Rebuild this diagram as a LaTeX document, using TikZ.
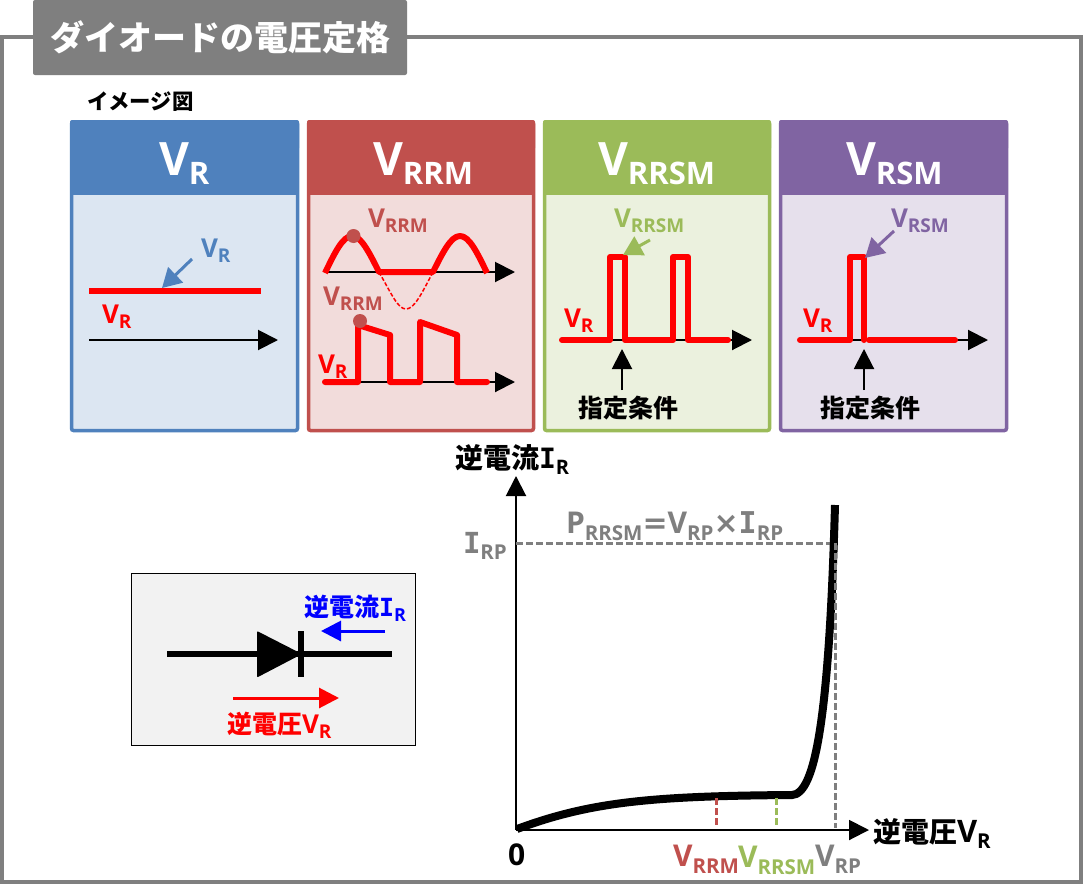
\documentclass[tikz,border=0pt]{standalone}
\usepackage{fontspec}
\setmainfont{Open Sans}
\newfontfamily\jp{Noto Sans CJK JP}
\newfontfamily\serifI{DejaVu Sans Mono}
\newfontfamily\symf{DejaVu Sans}
\usetikzlibrary{arrows.meta}
\definecolor{cblue}{HTML}{4F81BD}\definecolor{lblue}{HTML}{DCE6F2}
\definecolor{cred}{HTML}{C0504D}\definecolor{lred}{HTML}{F2DCDB}
\definecolor{cgreen}{HTML}{9BBB59}\definecolor{lgreen}{HTML}{EBF1DE}
\definecolor{cpurple}{HTML}{8064A2}\definecolor{lpurple}{HTML}{E6E0EC}
\definecolor{cgray}{HTML}{7F7F7F}\definecolor{lgray}{HTML}{F2F2F2}
\newcommand\VT[5]{{\fontsize{#1}{#1}\selectfont #4}\raisebox{-#3pt}{\bfseries\fontsize{#2}{#2}\selectfont #5}}
\newcommand\HeadT[2]{\VT{46}{31}{9}{#1}{#2}}
\newcommand\MidT[2]{\VT{26}{19}{5.5}{#1}{#2}}
\newcommand\GraT[2]{\VT{30}{20.5}{7}{#1}{#2}}
\newcommand\JI{{\serifI I}}
\tikzset{
 x=1pt,y=-1pt,
 every node/.style={inner sep=0pt,outer sep=0pt,font=\bfseries},
 txt/.style={anchor=base west},
 card/.style={rounded corners=2pt,line width=3.5pt},
 axis/.style={draw=black,line width=2pt,-{Triangle[length=20pt,width=20pt]}},
 redline/.style={draw=red,line width=6pt,line join=round,line cap=round},
 callout/.style={line width=3pt,-{Triangle[length=19pt,width=21pt]}},
 gdash/.style={line width=3pt,dash pattern=on 7pt off 3pt},
}
\begin{document}
\begin{tikzpicture}
\useasboundingbox (0,0) rectangle (1083,891);
\fill[white] (0,0) rectangle (1083,891);
% frame
\draw[cgray,line width=3.5pt] (2,37) rectangle (1081,882);
\node[fill=cgray,rounded corners=2pt,minimum width=374pt,minimum height=75pt,anchor=north west,text=white] (title) at (33,0) {\jp\fontsize{34}{34}\selectfont ダイオードの電圧定格};
\node[txt] (img) at (87,109) {\jp\fontsize{21.4}{21.4}\selectfont イメージ図};
% cards
\foreach \xa/\xb/\c/\l in {71.5/297.5/cblue/lblue,308.5/533.5/cred/lred,544.5/769.5/cgreen/lgreen,780.5/1006.5/cpurple/lpurple}{
 \draw[card,draw=\c,fill=\l] (\xa,122) rectangle (\xb,430.5);
 \fill[\c,rounded corners=2pt] (\xa-1.5,120) rectangle (\xb+1.5,150);
 \fill[\c] (\xa-1.5,140) rectangle (\xb+1.5,195);
}
\node[txt,text=white] (h1) at (159,175) {\HeadT{V}{R}};
\node[txt,text=white] (h2) at (373,175) {\HeadT{V}{RRM}};
\node[txt,text=white] (h3) at (598,175) {\HeadT{V}{RRSM}};
\node[txt,text=white] (h4) at (846,175) {\HeadT{V}{RSM}};
% card 1
\coordinate (a1s) at (89,340); \coordinate (a1e) at (278,340);
\draw[axis] (a1s) -- (a1e);
\draw[redline,line cap=butt] (89,291) -- (261,291);
\node[txt,text=cblue] (l1) at (201,257) {\MidT{V}{R}};
\node[txt,text=red] (l1r) at (102,323) {\MidT{V}{R}};
\coordinate (c1s) at (192,259); \coordinate (c1e) at (162,288);
\draw[callout,draw=cblue,fill=cblue] (c1s) -- (c1e);
% card 2
\coordinate (a2s) at (325,272); \coordinate (a2e) at (515,272);
\draw[axis] (a2s) -- (a2e);
\draw[red,line width=1.5pt,dash pattern=on 4pt off 2pt] (379,272) .. controls (392,295) and (398,309) .. (406,309) .. controls (414,309) and (421,295) .. (433,272);
\draw[redline,line cap=butt] (325,273) .. controls (335,252) and (343,236) .. (352,236) .. controls (361,236) and (369,252) .. (379,272) -- (433,272) .. controls (443,252) and (451,236) .. (460,236) .. controls (469,236) and (477,252) .. (487,273);
\fill[cred] (353.5,236) circle (7pt);
\node[txt,text=cred] (l2a) at (368,227) {\MidT{V}{RRM}};
\coordinate (a3s) at (325,382); \coordinate (a3e) at (515,382);
\draw[axis] (a3s) -- (a3e);
\draw[redline] (325,382) -- (358,382) -- (358,325) -- (390,335) -- (390,382) -- (420,382) -- (420,322) -- (457,335) -- (457,382) -- (487,382);
\fill[cred] (360,321) circle (7pt);
\node[txt,text=cred] (l2b) at (323,305) {\MidT{V}{RRM}};
\node[txt,text=red] (l2r) at (318,373) {\MidT{V}{R}};
% card 3
\coordinate (a4s) at (561,340); \coordinate (a4e) at (752,340);
\draw[axis] (a4s) -- (a4e);
\draw[redline] (562,340) -- (610,340) -- (610,257) -- (625,257) -- (625,340) -- (673,340) -- (673,257) -- (688,257) -- (688,340) -- (728,340);
\node[txt,text=cgreen] (l3) at (614,227) {\MidT{V}{RRSM}};
\node[txt,text=red] (l3r) at (564,327) {\MidT{V}{R}};
\coordinate (c3s) at (650,240); \coordinate (c3e) at (623,255);
\draw[callout,draw=cgreen,fill=cgreen] (c3s) -- (c3e);
\coordinate (u3s) at (622,390); \coordinate (u3e) at (622,349);
\draw[axis] (u3s) -- (u3e);
\node[txt] (t3) at (578,417) {\jp\fontsize{25}{25}\selectfont 指定条件};
% card 4
\coordinate (a5s) at (799,340); \coordinate (a5e) at (988,340);
\draw[axis] (a5s) -- (a5e);
\draw[redline] (800,340) -- (850,340) -- (850,257) -- (864,257) -- (864,340);
\draw[redline] (869,340) -- (955,340);
\node[txt,text=cpurple] (l4) at (891,227) {\MidT{V}{RSM}};
\node[txt,text=red] (l4r) at (803,327) {\MidT{V}{R}};
\coordinate (c4s) at (894,231); \coordinate (c4e) at (865,258);
\draw[callout,draw=cpurple,fill=cpurple] (c4s) -- (c4e);
\coordinate (u4s) at (864,390); \coordinate (u4e) at (864,349);
\draw[axis] (u4s) -- (u4e);
\node[txt] (t4) at (820,417) {\jp\fontsize{25}{25}\selectfont 指定条件};
% diode panel
\draw[black,fill=lgray,line width=1.3pt] (131.5,573.5) rectangle (415.5,745.5);
\coordinate (d1) at (167,654); \coordinate (d2) at (392,654);
\draw[line width=5.5pt] (d1) -- (d2);
\fill[black,rounded corners=1pt] (257,631) -- (257,677.5) -- (302,654) -- cycle;
\draw[line width=5.5pt] (301,631) -- (301,677);
\coordinate (ib1) at (385,631); \coordinate (ib2) at (321,631);
\draw[blue,line width=3pt,-{Triangle[length=20pt,width=20pt]}] (ib1) -- (ib2);
\coordinate (vr1) at (233,698); \coordinate (vr2) at (339,698);
\draw[red,line width=3pt,-{Triangle[length=20pt,width=20pt]}] (vr1) -- (vr2);
\node[txt,text=blue] (dI) at (304,616) {\VT{24}{18}{5}{\jp\fontsize{25}{25}\selectfont 逆電流\JI}{R}};
\node[txt,text=red] (dV) at (227,733) {\VT{26}{19}{5}{{\jp\fontsize{25}{25}\selectfont 逆電圧}V}{R}};
% graph
\coordinate (o) at (516,830); \coordinate (yt) at (516,476); \coordinate (xt) at (869,830);
\draw[axis] (o) -- (yt);
\draw[axis] (o) -- (xt);
\draw[cgray,gdash] (516,543) -- (835,543);
\draw[line width=8pt] (517,829) .. controls (590,802) and (650,796) .. (792,795) .. controls (815,794) and (829,720) .. (835,505);
\draw[cgray,gdash] (835,543) -- (835,828);
\draw[cred,gdash] (716.5,798) -- (716.5,828);
\draw[cgreen,gdash] (776.5,798) -- (776.5,828);
\node[txt] (yl) at (455,468) {\VT{28}{20}{6}{\jp\fontsize{28}{28}\selectfont 逆電流\JI}{R}};
\node[txt] (xl) at (873,842) {\VT{31}{20.5}{6}{{\jp\fontsize{28}{28}\selectfont 逆電圧}V}{R}};
\node[txt,text=cgray] (pl) at (566,533) {\VT{30}{20.5}{7}{P}{RRSM}\VT{30}{20.5}{7}{{\symf =}V}{RP}\VT{30}{20.5}{7}{{\symf ×}\JI}{RP}};
\node[txt,text=cgray] (il) at (463,553) {\VT{29}{20.5}{6}{\JI}{RP}};
\node[txt] (zero) at (508,865) {\fontsize{30}{30}\selectfont 0};
\node[txt,text=cred] (g1) at (673,866) {\GraT{V}{RRM}};
\node[txt,text=cgreen] (g2) at (738,867) {\GraT{V}{RRSM}};
\node[txt,text=cgray] (g3) at (815,866) {\GraT{V}{RP}};
\end{tikzpicture}
\end{document}
